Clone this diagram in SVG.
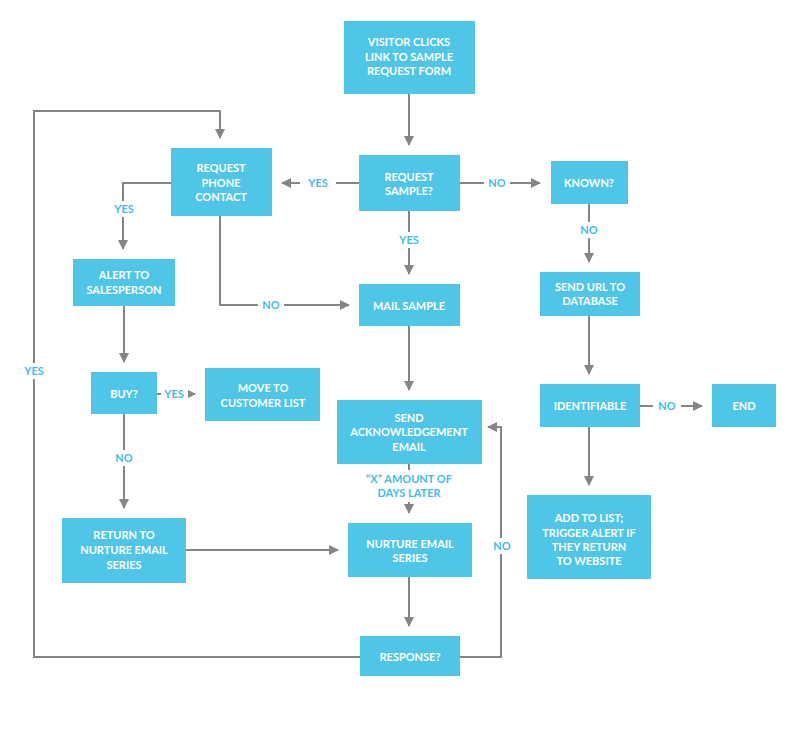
<svg xmlns="http://www.w3.org/2000/svg" width="799" height="737" viewBox="0 0 799 737">
<defs>
<marker id="ah" markerWidth="10" markerHeight="10" refX="9" refY="5" orient="auto" markerUnits="userSpaceOnUse"><path d="M0,0 L10,5 L0,10 z" fill="#858585"/></marker>
<style>
.b{fill:#4fc6e8}
.t{font-family:Lato,"Liberation Sans",sans-serif;font-weight:bold;font-size:11px;fill:#fff;text-anchor:middle}
.l{font-family:Lato,"Liberation Sans",sans-serif;font-weight:bold;font-size:11px;fill:#3fbde6;text-anchor:middle}
.c{fill:none;stroke:#858585;stroke-width:2;marker-end:url(#ah)}
.n{fill:none;stroke:#858585;stroke-width:2}
.bg{fill:#fff}
</style>
</defs>
<rect width="799" height="737" fill="#fff"/>
<g id="connectors">
<path class="c" d="M409,94V145"/>
<path class="c" d="M359,183H282"/>
<path class="c" d="M460,183H540"/>
<path class="c" d="M409,211V274"/>
<path class="c" d="M589,204V262"/>
<path class="c" d="M171,183H123V249"/>
<path class="c" d="M220,216V305H349"/>
<path class="c" d="M124,306V362"/>
<path class="c" d="M157,394H195"/>
<path class="c" d="M124,414V508"/>
<path class="c" d="M409,326V390"/>
<path class="c" d="M409,464V513"/>
<path class="c" d="M589,316V374"/>
<path class="c" d="M640,406H702"/>
<path class="c" d="M589,427V485"/>
<path class="c" d="M186,550H338"/>
<path class="c" d="M409,577V626"/>
<path class="c" d="M460,657H501V427H488"/>
<path class="c" d="M360,657H34V111H220V138"/>
<rect class="bg" x="300" y="175" width="36" height="16"/><text class="l" x="318" y="187">YES</text>
<rect class="bg" x="484" y="175" width="26" height="16"/><text class="l" x="497" y="187">NO</text>
<rect class="bg" x="394" y="232" width="30" height="16"/><text class="l" x="409" y="244">YES</text>
<rect class="bg" x="577" y="222" width="24" height="16"/><text class="l" x="589" y="234">NO</text>
<rect class="bg" x="108" y="201" width="32" height="16"/><text class="l" x="124" y="213">YES</text>
<rect class="bg" x="258" y="297" width="26" height="16"/><text class="l" x="271" y="309">NO</text>
<rect class="bg" x="161" y="386" width="27" height="16"/><text class="l" x="174" y="398">YES</text>
<rect class="bg" x="112" y="450" width="24" height="16"/><text class="l" x="124" y="462">NO</text>
<rect class="bg" x="350" y="470" width="118" height="32"/><text class="l" x="409" y="483">“X” AMOUNT OF</text><text class="l" x="409" y="497">DAYS LATER</text>
<rect class="bg" x="653" y="398" width="28" height="16"/><text class="l" x="667" y="410">NO</text>
<rect class="bg" x="489" y="538" width="26" height="16"/><text class="l" x="502" y="550">NO</text>
<rect class="bg" x="18" y="363" width="32" height="16"/><text class="l" x="34" y="375">YES</text>
</g>
<g id="n1"><rect class="b" x="344" y="21" width="131" height="73"/><text class="t" x="409" y="46">VISITOR CLICKS</text><text class="t" x="409" y="61">LINK TO SAMPLE</text><text class="t" x="409" y="75">REQUEST FORM</text></g>
<g id="n2"><rect class="b" x="359" y="155" width="101" height="56"/><text class="t" x="409" y="181">REQUEST</text><text class="t" x="409" y="195">SAMPLE?</text></g>
<g id="n3"><rect class="b" x="171" y="148" width="101" height="68"/><text class="t" x="221" y="172">REQUEST</text><text class="t" x="221" y="187">PHONE</text><text class="t" x="221" y="201">CONTACT</text></g>
<g id="n4"><rect class="b" x="551" y="161" width="77" height="43"/><text class="t" x="589" y="187">KNOWN?</text></g>
<g id="n5"><rect class="b" x="73" y="259" width="102" height="47"/><text class="t" x="124" y="279">ALERT TO</text><text class="t" x="124" y="294">SALESPERSON</text></g>
<g id="n6"><rect class="b" x="359" y="284" width="101" height="42"/><text class="t" x="409" y="310">MAIL SAMPLE</text></g>
<g id="n7"><rect class="b" x="540" y="272" width="100" height="44"/><text class="t" x="590" y="291">SEND URL TO</text><text class="t" x="590" y="305">DATABASE</text></g>
<g id="n8"><rect class="b" x="91" y="372" width="66" height="42"/><text class="t" x="124" y="398">BUY?</text></g>
<g id="n9"><rect class="b" x="205" y="368" width="115" height="53"/><text class="t" x="263" y="392">MOVE TO</text><text class="t" x="263" y="407">CUSTOMER LIST</text></g>
<g id="n10"><rect class="b" x="337" y="400" width="145" height="64"/><text class="t" x="409" y="422">SEND</text><text class="t" x="409" y="436">ACKNOWLEDGEMENT</text><text class="t" x="409" y="451">EMAIL</text></g>
<g id="n11"><rect class="b" x="540" y="384" width="100" height="43"/><text class="t" x="590" y="410">IDENTIFIABLE</text></g>
<g id="n12"><rect class="b" x="712" y="384" width="64" height="43"/><text class="t" x="744" y="410">END</text></g>
<g id="n13"><rect class="b" x="62" y="518" width="124" height="65"/><text class="t" x="124" y="539">RETURN TO</text><text class="t" x="124" y="554">NURTURE EMAIL</text><text class="t" x="124" y="569">SERIES</text></g>
<g id="n14"><rect class="b" x="348" y="523" width="124" height="54"/><text class="t" x="410" y="548">NURTURE EMAIL</text><text class="t" x="410" y="562">SERIES</text></g>
<g id="n15"><rect class="b" x="527" y="495" width="124" height="84"/><text class="t" x="589" y="522">ADD TO LIST;</text><text class="t" x="589" y="537">TRIGGER ALERT IF</text><text class="t" x="589" y="551">THEY RETURN</text><text class="t" x="589" y="565">TO WEBSITE</text></g>
<g id="n16"><rect class="b" x="360" y="636" width="100" height="40"/><text class="t" x="410" y="661">RESPONSE?</text></g>
</svg>
